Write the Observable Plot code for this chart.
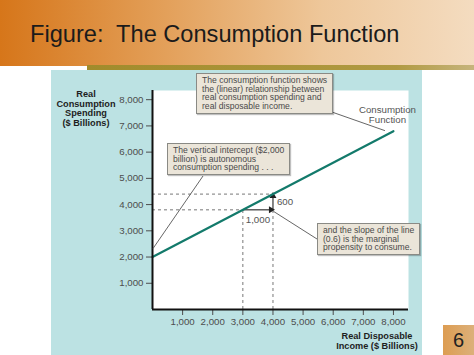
<!DOCTYPE html>
<html><head><meta charset="utf-8">
<script src="https://cdn.jsdelivr.net/npm/d3@7"></script>
<script src="https://cdn.jsdelivr.net/npm/@observablehq/plot@0.6"></script>
<style>
body{margin:0;background:#fff;font-family:"Liberation Sans",Arial,sans-serif;}
#slide{position:relative;width:474px;height:355px;overflow:hidden;background:#fff;}
#header{position:absolute;left:0;top:0;width:474px;height:66px;background:linear-gradient(90deg,#d6761a 0%,#e3a05a 35%,#eec79a 68%,#f4dcc0 100%);}
#title{position:absolute;left:30px;top:23px;font-size:23.6px;line-height:23px;color:#1b1b1b;white-space:pre;}
#rule{position:absolute;left:87px;top:65px;width:387px;height:5px;background:linear-gradient(90deg,#a18b2b,#b09a42 80%,#c6b47c);}
#panel{position:absolute;left:51px;top:70px;width:371px;height:285px;background:#bce2e3;}
#chart{position:absolute;left:0;top:0;}
.note{position:absolute;background:#ebe5d9;border:1px solid #8a8a85;box-shadow:1px 1px 1px rgba(0,0,0,0.25);font-size:8.6px;line-height:8.7px;color:#4a4a4a;padding:2px 5px 2px 5px;white-space:nowrap;}
.atitle{position:absolute;font-weight:bold;font-size:9.2px;line-height:9.5px;color:#1e1e1e;text-align:center;}
#page{position:absolute;left:443px;top:325px;width:31px;height:30px;background:linear-gradient(90deg,#dd9d52,#dcb07a);font-size:20px;line-height:30px;text-align:center;color:#222;}
</style></head>
<body>
<div id="slide">
  <div id="header"></div>
  <div id="title">Figure:  The Consumption Function</div>
  <div id="rule"></div>
  <div id="panel"></div>
  <div id="chart"></div>
  <div class="atitle" style="left:46px;top:90px;width:80px;">Real<br>Consumption<br>Spending<br>($ Billions)</div>
  <div class="atitle" style="left:322px;top:332px;width:110px;">Real Disposable<br>Income ($ Billions)</div>
  <div class="note" id="n1" style="left:196px;top:73px;">The consumption function shows<br>the (linear) relationship between<br>real consumption spending and<br>real disposable income.</div>
  <div class="note" id="n2" style="left:167px;top:143px;">The vertical intercept ($2,000<br>billion) is autonomous<br>consumption spending . . .</div>
  <div class="note" id="n3" style="left:317px;top:223px;">and the slope of the line<br>(0.6) is the marginal<br>propensity to consume.</div>
  <div id="page">6</div>
</div>
<script>
// Data
const income = [0, 8000];              // real disposable income ($ billions)
const consumption = [2000, 6800];      // real consumption spending ($ billions)
const mpcIncome = [3000, 4000];        // income points used to show the slope
const mpcConsumption = [3800, 4400];   // consumption at those points
const xTicks = [1000, 2000, 3000, 4000, 5000, 6000, 7000, 8000];
const yTicks = [1000, 2000, 3000, 4000, 5000, 6000, 7000, 8000];
const lineLabel = "Consumption\nFunction";

const lineData = income.map((v, i) => ({income: v, consumption: consumption[i]}));
const fmt = d3.format(",");
const run = [{x1: mpcIncome[0], x2: mpcIncome[1], y: mpcConsumption[0]}];
const rise = [{x: mpcIncome[1], y1: mpcConsumption[0], y2: mpcConsumption[1]}];
const hDash = [{y: mpcConsumption[0], x2: mpcIncome[0]}, {y: mpcConsumption[1], x2: mpcIncome[1]}];

const chart = Plot.plot({
  width: 474, height: 355,
  marginLeft: 152, marginRight: 66, marginTop: 90, marginBottom: 46,
  style: {background: "transparent", fontFamily: "'Liberation Sans', Arial, sans-serif", fontSize: "9.7px", color: "#4d4d4d"},
  x: {domain: [0, 8500], ticks: xTicks, tickFormat: fmt, tickSize: 6, tickPadding: 3, label: null},
  y: {domain: [0, 8350], ticks: yTicks, tickFormat: fmt, tickSize: 6, tickPadding: 3, label: null},
  marks: [
    Plot.frame({fill: "white", stroke: null}),
    Plot.ruleY(hDash, {y: "y", x1: 0, x2: "x2", stroke: "#777", strokeDasharray: "3,3", strokeWidth: 1}),
    Plot.ruleX(mpcIncome, {x: d => d, y1: 0, y2: mpcConsumption[0], stroke: "#777", strokeDasharray: "3,3", strokeWidth: 1}),
    Plot.link(run, {x1: "x1", x2: "x2", y1: "y", y2: "y", stroke: "#222", strokeWidth: 1.1}),
    Plot.link(rise, {x1: "x", x2: "x", y1: "y1", y2: "y2", stroke: "#222", strokeWidth: 1.1}),
    Plot.dot(run, {x: "x2", y: "y", symbol: "triangle", rotate: 90, r: 2.6, fill: "#222", stroke: null, dx: -2}),
    Plot.dot(rise, {x: "x", y: "y2", symbol: "triangle", r: 2.6, fill: "#222", stroke: null, dy: 2}),
    Plot.text(run, {x: d => (d.x1 + d.x2) / 2, y: "y", text: d => fmt(d.x2 - d.x1), dy: 10, fill: "#555", fontSize: 9.7}),
    Plot.text(rise, {x: "x", y: d => (d.y1 + d.y2) / 2, text: d => fmt(d.y2 - d.y1), dx: 4, textAnchor: "start", fill: "#555", fontSize: 9.7}),
    Plot.line(lineData, {x: "income", y: "consumption", stroke: "#137a6b", strokeWidth: 2.2}),
    Plot.text([lineData[1]], {x: "income", y: "consumption", text: () => lineLabel, dx: -6, dy: -8, lineAnchor: "bottom", lineHeight: 1.05, fill: "#555", fontSize: 9.7}),
    Plot.ruleX([0], {stroke: "#111", strokeWidth: 2}),
    Plot.ruleY([0], {stroke: "#111", strokeWidth: 2})
  ]
});
document.getElementById("chart").appendChild(chart);

// Leader lines from the notes to the chart
const sx = chart.scale("x"), sy = chart.scale("y");
const svg = d3.select(chart);
const leaders = [
  [[329, 111], [sx.apply(income[1]) - 8, sy.apply(consumption[1])]],
  [[203, 176], [sx.apply(income[0]) + 1, sy.apply(consumption[0]) - 8]],
  [[sx.apply(mpcIncome[1]) + 1, sy.apply(mpcConsumption[0]) + 2], [317, 239]]
];
for (const [a, b] of leaders) {
  svg.append("line").attr("x1", a[0]).attr("y1", a[1]).attr("x2", b[0]).attr("y2", b[1])
    .attr("stroke", "#555").attr("stroke-width", 0.9);
}
</script>
</body></html>
